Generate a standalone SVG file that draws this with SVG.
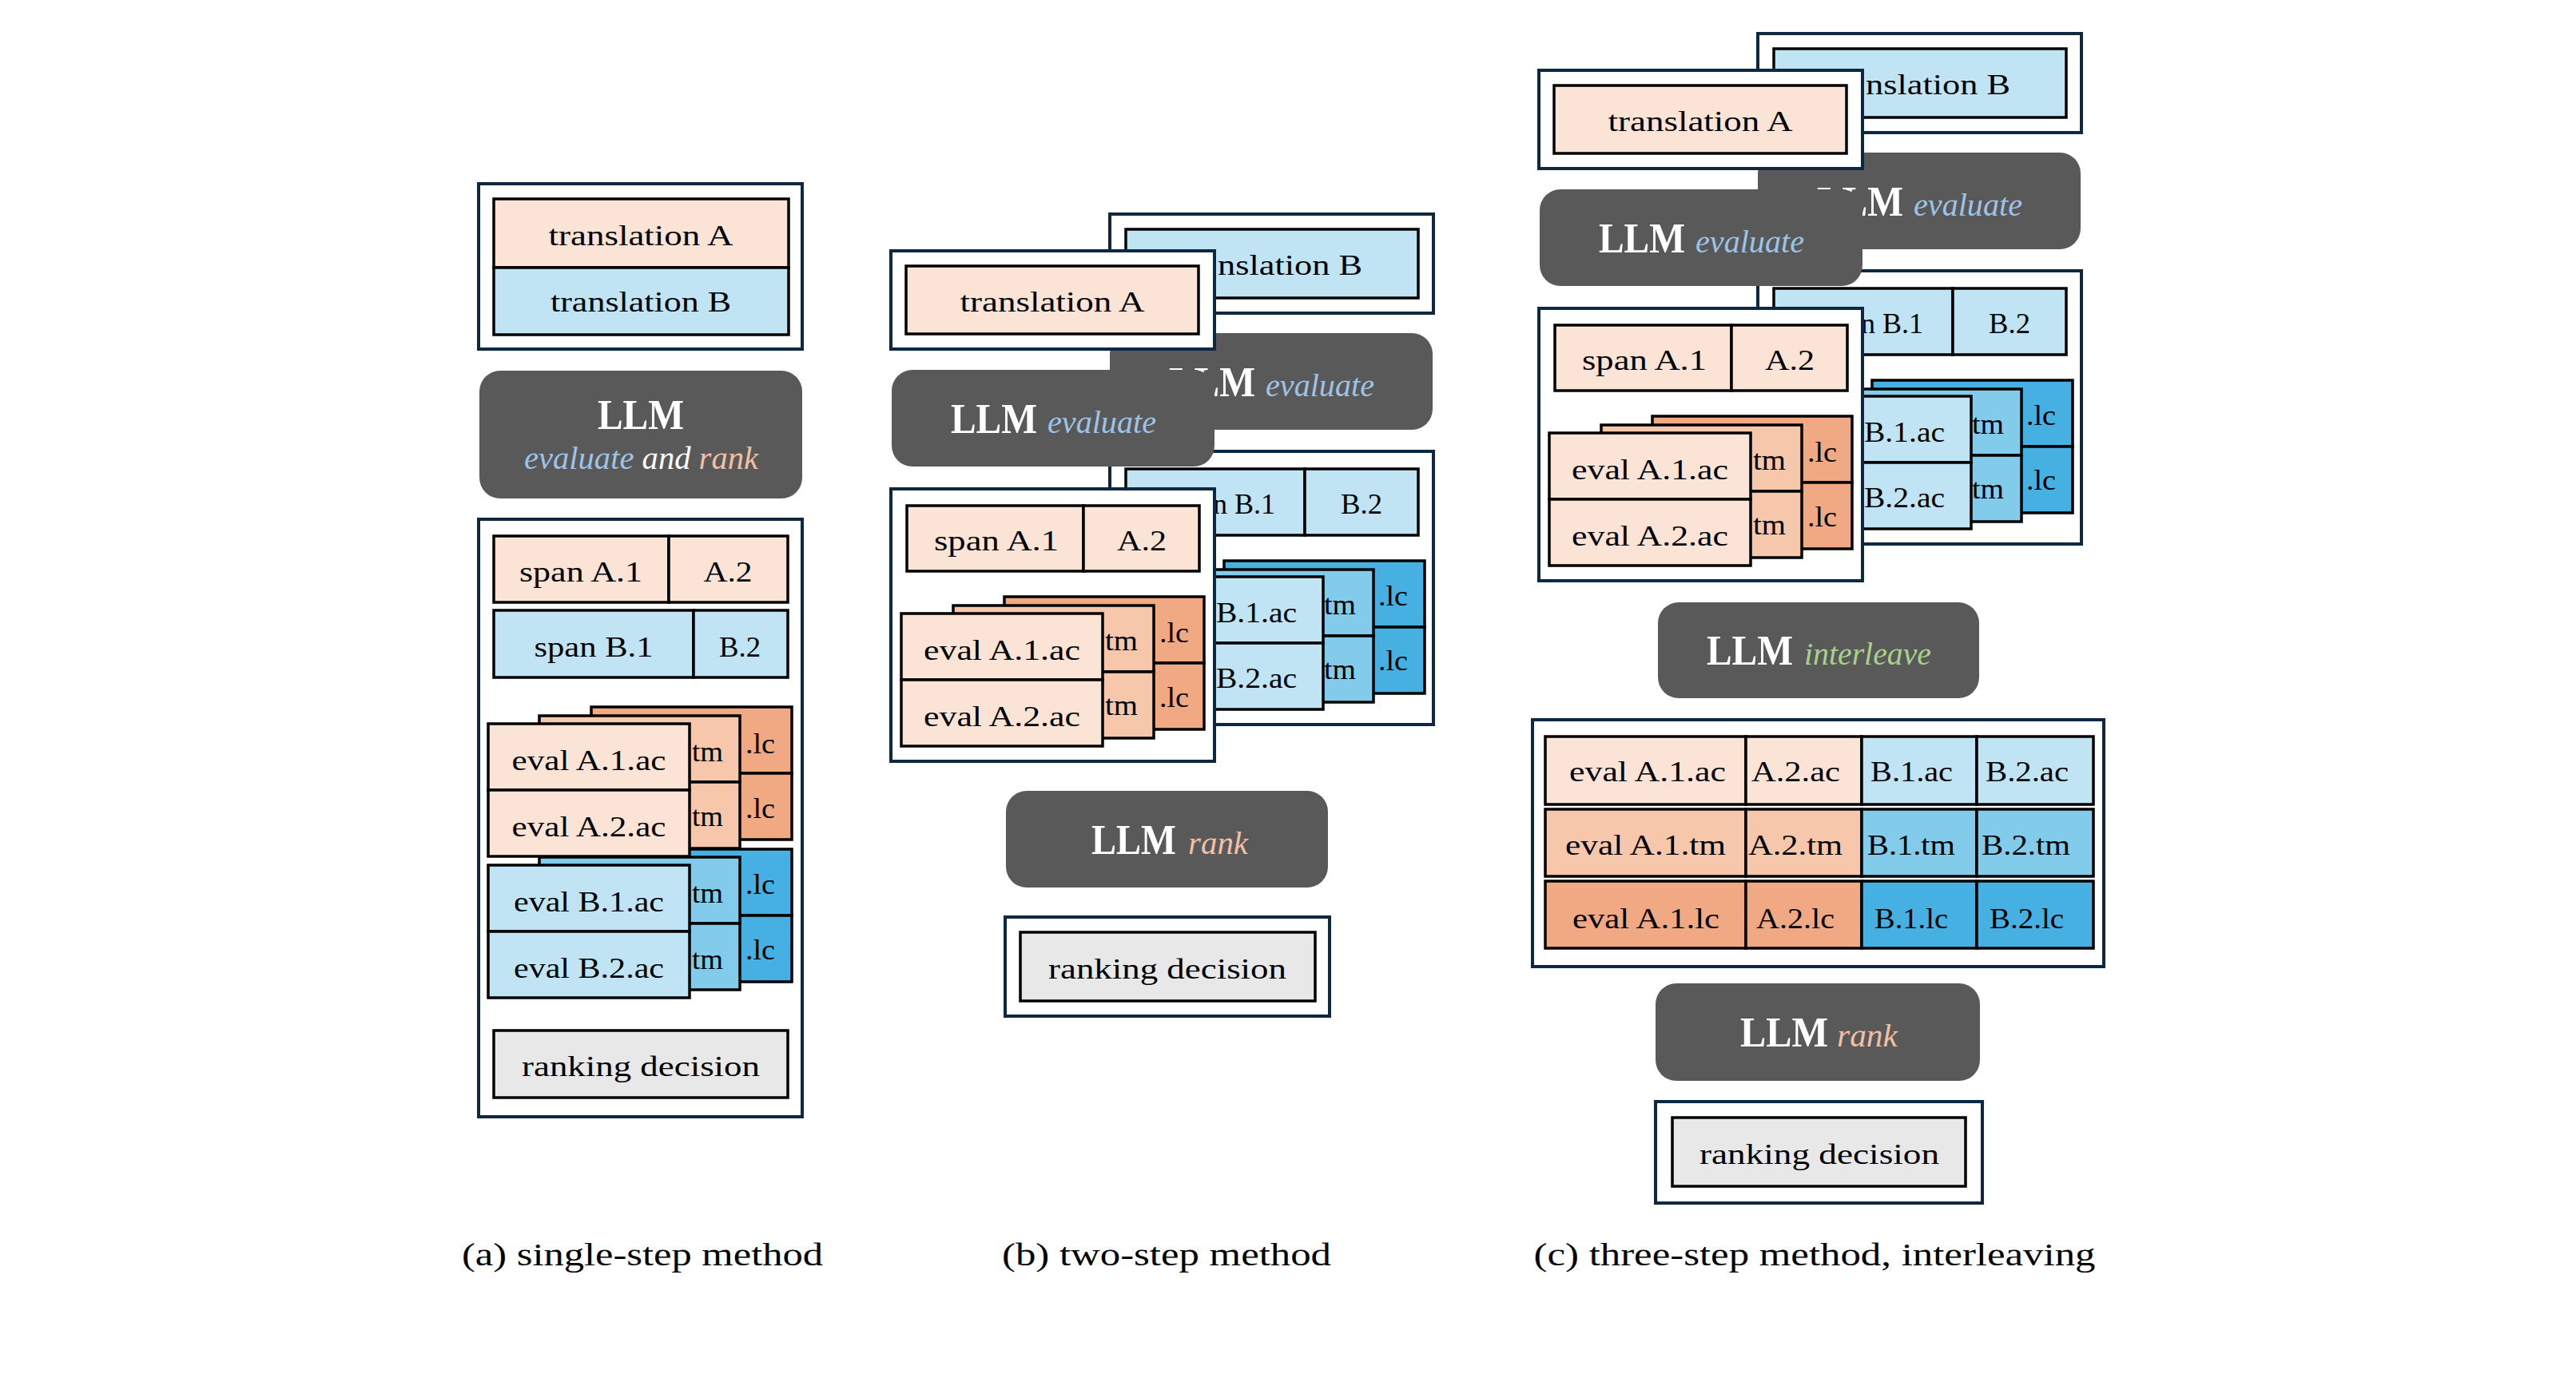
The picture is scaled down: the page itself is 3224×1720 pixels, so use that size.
<svg xmlns="http://www.w3.org/2000/svg" width="3224" height="1720" viewBox="0 0 3224 1720">
<style>
.a1{fill:#fbe3d6}.a2{fill:#f7c7ac}.a3{fill:#f1a983}
.b1{fill:#c1e4f5}.b2{fill:#83cbeb}.b3{fill:#45b0e1}.gr{fill:#e8e8e8}
.bx{stroke:#000;stroke-width:3.5}
.ob{fill:#fff;stroke:#0e2841;stroke-width:4}
.llm{fill:#595959}
.t{font-family:"Liberation Serif",serif;font-size:36px;fill:#000}
.m{text-anchor:middle}
.L{font-family:"Liberation Serif",serif;font-size:52px;font-weight:bold;fill:#fff}
.i{font-family:"Liberation Serif",serif;font-size:40px;font-style:italic}
.ev{fill:#9dc3e6}.rk{fill:#f2c0a6}.il{fill:#a9d18e}.wh{fill:#fff}
.cap{font-family:"Liberation Serif",serif;font-size:41px;fill:#000;text-anchor:middle}
</style>
<rect width="3224" height="1720" fill="#fff"/>
<g id="connectors"/>

<!-- ===== Panel (a) ===== -->
<g id="a-translations">
<rect class="ob" x="599" y="230" width="405" height="207"/>
<rect class="a1 bx" x="618" y="249" width="369" height="86"/>
<rect class="b1 bx" x="618" y="335" width="369" height="84"/>
<text class="t m" x="802" y="307" textLength="231" lengthAdjust="spacingAndGlyphs">translation A</text>
<text class="t m" x="802" y="390" textLength="226" lengthAdjust="spacingAndGlyphs">translation B</text>
</g>
<g id="a-llm">
<rect class="llm" x="600" y="464" width="404" height="160" rx="26"/>
<text class="L" x="748" y="537" textLength="108" lengthAdjust="spacingAndGlyphs">LLM</text>
<text class="i" x="656" y="587" textLength="293" lengthAdjust="spacingAndGlyphs"><tspan class="ev">evaluate</tspan><tspan class="wh"> and </tspan><tspan class="rk">rank</tspan></text>
</g>
<g id="a-output">
<rect class="ob" x="599" y="650" width="405" height="748"/>
<g id="a-spans">
<rect class="a1 bx" x="618" y="671" width="219" height="83"/>
<rect class="a1 bx" x="837" y="671" width="149" height="83"/>
<rect class="b1 bx" x="618" y="764" width="250" height="84"/>
<rect class="b1 bx" x="868" y="764" width="118" height="84"/>
<text class="t m" x="727" y="728" textLength="154" lengthAdjust="spacingAndGlyphs">span A.1</text>
<text class="t m" x="911" y="728" textLength="61" lengthAdjust="spacingAndGlyphs">A.2</text>
<text class="t m" x="743" y="822" textLength="149" lengthAdjust="spacingAndGlyphs">span B.1</text>
<text class="t m" x="926" y="822" textLength="52" lengthAdjust="spacingAndGlyphs">B.2</text>
</g>
<g id="a-evalB">
<rect class="b3 bx" x="740" y="1063" width="251" height="83"/>
<rect class="b3 bx" x="740" y="1146" width="251" height="83"/>
<text class="t" x="933" y="1119" textLength="37" lengthAdjust="spacingAndGlyphs">.lc</text>
<text class="t" x="933" y="1201" textLength="37" lengthAdjust="spacingAndGlyphs">.lc</text>
<rect class="b2 bx" x="675" y="1073" width="251" height="83"/>
<rect class="b2 bx" x="675" y="1156" width="251" height="83"/>
<text class="t" x="866" y="1130" textLength="39" lengthAdjust="spacingAndGlyphs">tm</text>
<text class="t" x="866" y="1213" textLength="39" lengthAdjust="spacingAndGlyphs">tm</text>
<rect class="b1 bx" x="611" y="1083" width="252" height="83"/>
<rect class="b1 bx" x="611" y="1166" width="252" height="83"/>
<text class="t m" x="737" y="1141" textLength="188" lengthAdjust="spacingAndGlyphs">eval B.1.ac</text>
<text class="t m" x="737" y="1224" textLength="188" lengthAdjust="spacingAndGlyphs">eval B.2.ac</text>
</g>
<g id="a-evalA">
<rect class="a3 bx" x="740" y="885" width="251" height="83"/>
<rect class="a3 bx" x="740" y="968" width="251" height="83"/>
<text class="t" x="933" y="943" textLength="37" lengthAdjust="spacingAndGlyphs">.lc</text>
<text class="t" x="933" y="1024" textLength="37" lengthAdjust="spacingAndGlyphs">.lc</text>
<rect class="a2 bx" x="675" y="896" width="251" height="83"/>
<rect class="a2 bx" x="675" y="979" width="251" height="83"/>
<text class="t" x="866" y="953" textLength="39" lengthAdjust="spacingAndGlyphs">tm</text>
<text class="t" x="866" y="1034" textLength="39" lengthAdjust="spacingAndGlyphs">tm</text>
<rect class="a1 bx" x="611" y="906" width="252" height="83"/>
<rect class="a1 bx" x="611" y="989" width="252" height="83"/>
<text class="t m" x="737" y="964" textLength="193" lengthAdjust="spacingAndGlyphs">eval A.1.ac</text>
<text class="t m" x="737" y="1047" textLength="193" lengthAdjust="spacingAndGlyphs">eval A.2.ac</text>
</g>
<g id="a-decision">
<rect class="gr bx" x="618" y="1290" width="368" height="84"/>
<text class="t m" x="802" y="1347" textLength="298" lengthAdjust="spacingAndGlyphs">ranking decision</text>
</g>
</g>

<!-- ===== Panel (b) ===== -->
<g id="b-upper">
<g id="b-back">
<g id="b-transB">
<rect class="ob" x="1389" y="268" width="405" height="124"/>
<rect class="b1 bx" x="1409" y="287" width="366" height="86"/>
<text class="t" x="1705" y="344" text-anchor="end" textLength="181" lengthAdjust="spacingAndGlyphs">nslation B</text>
</g>
<g id="b-llmB">
<rect class="llm" x="1389" y="417" width="404" height="121" rx="26"/>
<text class="L" x="1463" y="496" textLength="108" lengthAdjust="spacingAndGlyphs">LLM</text>
<text class="i ev" x="1584" y="496" textLength="136" lengthAdjust="spacingAndGlyphs">evaluate</text>
</g>
<g id="b-spanB">
<rect class="ob" x="1389" y="565" width="405" height="342"/>
<rect class="b1 bx" x="1409" y="587" width="224" height="83"/>
<rect class="b1 bx" x="1633" y="587" width="142" height="83"/>
<text class="t" x="1596" y="643" text-anchor="end" textLength="78" lengthAdjust="spacingAndGlyphs">n B.1</text>
<text class="t m" x="1704" y="643" textLength="52" lengthAdjust="spacingAndGlyphs">B.2</text>
<rect class="b3 bx" x="1532" y="702" width="251" height="83"/>
<rect class="b3 bx" x="1532" y="785" width="251" height="83"/>
<text class="t" x="1725" y="758" textLength="37" lengthAdjust="spacingAndGlyphs">.lc</text>
<text class="t" x="1725" y="839" textLength="37" lengthAdjust="spacingAndGlyphs">.lc</text>
<rect class="b2 bx" x="1468" y="713" width="251" height="83"/>
<rect class="b2 bx" x="1468" y="796" width="251" height="83"/>
<text class="t" x="1657" y="769" textLength="40" lengthAdjust="spacingAndGlyphs">tm</text>
<text class="t" x="1657" y="850" textLength="40" lengthAdjust="spacingAndGlyphs">tm</text>
<rect class="b1 bx" x="1405" y="722" width="251" height="83"/>
<rect class="b1 bx" x="1405" y="805" width="251" height="83"/>
<text class="t" x="1522" y="779" textLength="101" lengthAdjust="spacingAndGlyphs">B.1.ac</text>
<text class="t" x="1522" y="861" textLength="101" lengthAdjust="spacingAndGlyphs">B.2.ac</text>
</g>
</g>
<g id="b-front">
<g id="b-transA">
<rect class="ob" x="1115" y="314" width="405" height="123"/>
<rect class="a1 bx" x="1134" y="333" width="366" height="85"/>
<text class="t m" x="1317" y="390" textLength="231" lengthAdjust="spacingAndGlyphs">translation A</text>
</g>
<g id="b-llmA">
<rect class="llm" x="1116" y="463" width="404" height="121" rx="26"/>
<text class="L" x="1190" y="542" textLength="108" lengthAdjust="spacingAndGlyphs">LLM</text>
<text class="i ev" x="1311" y="542" textLength="136" lengthAdjust="spacingAndGlyphs">evaluate</text>
</g>
<g id="b-spanA">
<rect class="ob" x="1115" y="612" width="405" height="341"/>
<rect class="a1 bx" x="1135" y="633" width="221" height="82"/>
<rect class="a1 bx" x="1356" y="633" width="145" height="82"/>
<text class="t m" x="1247" y="689" textLength="156" lengthAdjust="spacingAndGlyphs">span A.1</text>
<text class="t m" x="1429" y="689" textLength="62" lengthAdjust="spacingAndGlyphs">A.2</text>
<rect class="a3 bx" x="1257" y="747" width="250" height="83"/>
<rect class="a3 bx" x="1257" y="830" width="250" height="83"/>
<text class="t" x="1451" y="804" textLength="37" lengthAdjust="spacingAndGlyphs">.lc</text>
<text class="t" x="1451" y="885" textLength="37" lengthAdjust="spacingAndGlyphs">.lc</text>
<rect class="a2 bx" x="1193" y="758" width="251" height="83"/>
<rect class="a2 bx" x="1193" y="841" width="251" height="83"/>
<text class="t" x="1383" y="814" textLength="41" lengthAdjust="spacingAndGlyphs">tm</text>
<text class="t" x="1383" y="895" textLength="41" lengthAdjust="spacingAndGlyphs">tm</text>
<rect class="a1 bx" x="1128" y="768" width="252" height="83"/>
<rect class="a1 bx" x="1128" y="851" width="252" height="83"/>
<text class="t m" x="1254" y="826" textLength="196" lengthAdjust="spacingAndGlyphs">eval A.1.ac</text>
<text class="t m" x="1254" y="909" textLength="196" lengthAdjust="spacingAndGlyphs">eval A.2.ac</text>
</g>
</g>
</g>
<g id="b-llmrank">
<rect class="llm" x="1259" y="990" width="403" height="121" rx="26"/>
<text class="L" x="1366" y="1069" textLength="106" lengthAdjust="spacingAndGlyphs">LLM</text>
<text class="i rk" x="1487" y="1069" textLength="75" lengthAdjust="spacingAndGlyphs">rank</text>
</g>
<g id="b-decision">
<rect class="ob" x="1258" y="1148" width="406" height="124"/>
<rect class="gr bx" x="1277" y="1167" width="369" height="86"/>
<text class="t m" x="1461" y="1225" textLength="298" lengthAdjust="spacingAndGlyphs">ranking decision</text>
</g>

<!-- ===== Panel (c) ===== -->
<g id="c-upper" transform="translate(811,-226)">
<g id="c-back">
<g id="c-transB">
<rect class="ob" x="1389" y="268" width="405" height="124"/>
<rect class="b1 bx" x="1409" y="287" width="366" height="86"/>
<text class="t" x="1705" y="344" text-anchor="end" textLength="181" lengthAdjust="spacingAndGlyphs">nslation B</text>
</g>
<g id="c-llmB">
<rect class="llm" x="1389" y="417" width="404" height="121" rx="26"/>
<text class="L" x="1463" y="496" textLength="108" lengthAdjust="spacingAndGlyphs">LLM</text>
<text class="i ev" x="1584" y="496" textLength="136" lengthAdjust="spacingAndGlyphs">evaluate</text>
</g>
<g id="c-spanB">
<rect class="ob" x="1389" y="565" width="405" height="342"/>
<rect class="b1 bx" x="1409" y="587" width="224" height="83"/>
<rect class="b1 bx" x="1633" y="587" width="142" height="83"/>
<text class="t" x="1596" y="643" text-anchor="end" textLength="78" lengthAdjust="spacingAndGlyphs">n B.1</text>
<text class="t m" x="1704" y="643" textLength="52" lengthAdjust="spacingAndGlyphs">B.2</text>
<rect class="b3 bx" x="1532" y="702" width="251" height="83"/>
<rect class="b3 bx" x="1532" y="785" width="251" height="83"/>
<text class="t" x="1725" y="758" textLength="37" lengthAdjust="spacingAndGlyphs">.lc</text>
<text class="t" x="1725" y="839" textLength="37" lengthAdjust="spacingAndGlyphs">.lc</text>
<rect class="b2 bx" x="1468" y="713" width="251" height="83"/>
<rect class="b2 bx" x="1468" y="796" width="251" height="83"/>
<text class="t" x="1657" y="769" textLength="40" lengthAdjust="spacingAndGlyphs">tm</text>
<text class="t" x="1657" y="850" textLength="40" lengthAdjust="spacingAndGlyphs">tm</text>
<rect class="b1 bx" x="1405" y="722" width="251" height="83"/>
<rect class="b1 bx" x="1405" y="805" width="251" height="83"/>
<text class="t" x="1522" y="779" textLength="101" lengthAdjust="spacingAndGlyphs">B.1.ac</text>
<text class="t" x="1522" y="861" textLength="101" lengthAdjust="spacingAndGlyphs">B.2.ac</text>
</g>
</g>
<g id="c-front">
<g id="c-transA">
<rect class="ob" x="1115" y="314" width="405" height="123"/>
<rect class="a1 bx" x="1134" y="333" width="366" height="85"/>
<text class="t m" x="1317" y="390" textLength="231" lengthAdjust="spacingAndGlyphs">translation A</text>
</g>
<g id="c-llmA">
<rect class="llm" x="1116" y="463" width="404" height="121" rx="26"/>
<text class="L" x="1190" y="542" textLength="108" lengthAdjust="spacingAndGlyphs">LLM</text>
<text class="i ev" x="1311" y="542" textLength="136" lengthAdjust="spacingAndGlyphs">evaluate</text>
</g>
<g id="c-spanA">
<rect class="ob" x="1115" y="612" width="405" height="341"/>
<rect class="a1 bx" x="1135" y="633" width="221" height="82"/>
<rect class="a1 bx" x="1356" y="633" width="145" height="82"/>
<text class="t m" x="1247" y="689" textLength="156" lengthAdjust="spacingAndGlyphs">span A.1</text>
<text class="t m" x="1429" y="689" textLength="62" lengthAdjust="spacingAndGlyphs">A.2</text>
<rect class="a3 bx" x="1257" y="747" width="250" height="83"/>
<rect class="a3 bx" x="1257" y="830" width="250" height="83"/>
<text class="t" x="1451" y="804" textLength="37" lengthAdjust="spacingAndGlyphs">.lc</text>
<text class="t" x="1451" y="885" textLength="37" lengthAdjust="spacingAndGlyphs">.lc</text>
<rect class="a2 bx" x="1193" y="758" width="251" height="83"/>
<rect class="a2 bx" x="1193" y="841" width="251" height="83"/>
<text class="t" x="1383" y="814" textLength="41" lengthAdjust="spacingAndGlyphs">tm</text>
<text class="t" x="1383" y="895" textLength="41" lengthAdjust="spacingAndGlyphs">tm</text>
<rect class="a1 bx" x="1128" y="768" width="252" height="83"/>
<rect class="a1 bx" x="1128" y="851" width="252" height="83"/>
<text class="t m" x="1254" y="826" textLength="196" lengthAdjust="spacingAndGlyphs">eval A.1.ac</text>
<text class="t m" x="1254" y="909" textLength="196" lengthAdjust="spacingAndGlyphs">eval A.2.ac</text>
</g>
</g>
</g>
<g id="c-llminterleave">
<rect class="llm" x="2075" y="754" width="402" height="120" rx="26"/>
<text class="L" x="2136" y="832" textLength="108" lengthAdjust="spacingAndGlyphs">LLM</text>
<text class="i il" x="2258" y="832" textLength="159" lengthAdjust="spacingAndGlyphs">interleave</text>
</g>
<g id="c-table">
<rect class="ob" x="1918" y="901" width="715" height="309"/>
<rect class="a1 bx" x="1934" y="922" width="251" height="85"/>
<rect class="a1 bx" x="2185" y="922" width="145" height="85"/>
<rect class="b1 bx" x="2330" y="922" width="144" height="85"/>
<rect class="b1 bx" x="2474" y="922" width="146" height="85"/>
<rect class="a2 bx" x="1934" y="1013" width="251" height="84"/>
<rect class="a2 bx" x="2185" y="1013" width="145" height="84"/>
<rect class="b2 bx" x="2330" y="1013" width="144" height="84"/>
<rect class="b2 bx" x="2474" y="1013" width="146" height="84"/>
<rect class="a3 bx" x="1934" y="1103" width="251" height="84"/>
<rect class="a3 bx" x="2185" y="1103" width="145" height="84"/>
<rect class="b3 bx" x="2330" y="1103" width="144" height="84"/>
<rect class="b3 bx" x="2474" y="1103" width="146" height="84"/>
<text class="t" x="1964" y="978" textLength="196" lengthAdjust="spacingAndGlyphs">eval A.1.ac</text>
<text class="t" x="2192" y="978" textLength="111" lengthAdjust="spacingAndGlyphs">A.2.ac</text>
<text class="t" x="2341" y="978" textLength="103" lengthAdjust="spacingAndGlyphs">B.1.ac</text>
<text class="t" x="2485" y="978" textLength="104" lengthAdjust="spacingAndGlyphs">B.2.ac</text>
<text class="t" x="1959" y="1070" textLength="201" lengthAdjust="spacingAndGlyphs">eval A.1.tm</text>
<text class="t" x="2188" y="1070" textLength="118" lengthAdjust="spacingAndGlyphs">A.2.tm</text>
<text class="t" x="2337" y="1070" textLength="110" lengthAdjust="spacingAndGlyphs">B.1.tm</text>
<text class="t" x="2480" y="1070" textLength="111" lengthAdjust="spacingAndGlyphs">B.2.tm</text>
<text class="t" x="1968" y="1162" textLength="184" lengthAdjust="spacingAndGlyphs">eval A.1.lc</text>
<text class="t" x="2198" y="1162" textLength="98" lengthAdjust="spacingAndGlyphs">A.2.lc</text>
<text class="t" x="2346" y="1162" textLength="92" lengthAdjust="spacingAndGlyphs">B.1.lc</text>
<text class="t" x="2490" y="1162" textLength="93" lengthAdjust="spacingAndGlyphs">B.2.lc</text>
</g>
<g id="c-llmrank">
<rect class="llm" x="2072" y="1231" width="406" height="122" rx="26"/>
<text class="L" x="2178" y="1310" textLength="110" lengthAdjust="spacingAndGlyphs">LLM</text>
<text class="i rk" x="2299" y="1310" textLength="76" lengthAdjust="spacingAndGlyphs">rank</text>
</g>
<g id="c-decision">
<rect class="ob" x="2072" y="1379" width="409" height="127"/>
<rect class="gr bx" x="2093" y="1399" width="367" height="86"/>
<text class="t m" x="2277" y="1457" textLength="300" lengthAdjust="spacingAndGlyphs">ranking decision</text>
</g>

<!-- ===== Captions ===== -->
<g id="captions">
<text class="cap" x="804" y="1584" textLength="452" lengthAdjust="spacingAndGlyphs">(a) single-step method</text>
<text class="cap" x="1460" y="1584" textLength="412" lengthAdjust="spacingAndGlyphs">(b) two-step method</text>
<text class="cap" x="2271" y="1584" textLength="703" lengthAdjust="spacingAndGlyphs">(c) three-step method, interleaving</text>
</g>
</svg>
